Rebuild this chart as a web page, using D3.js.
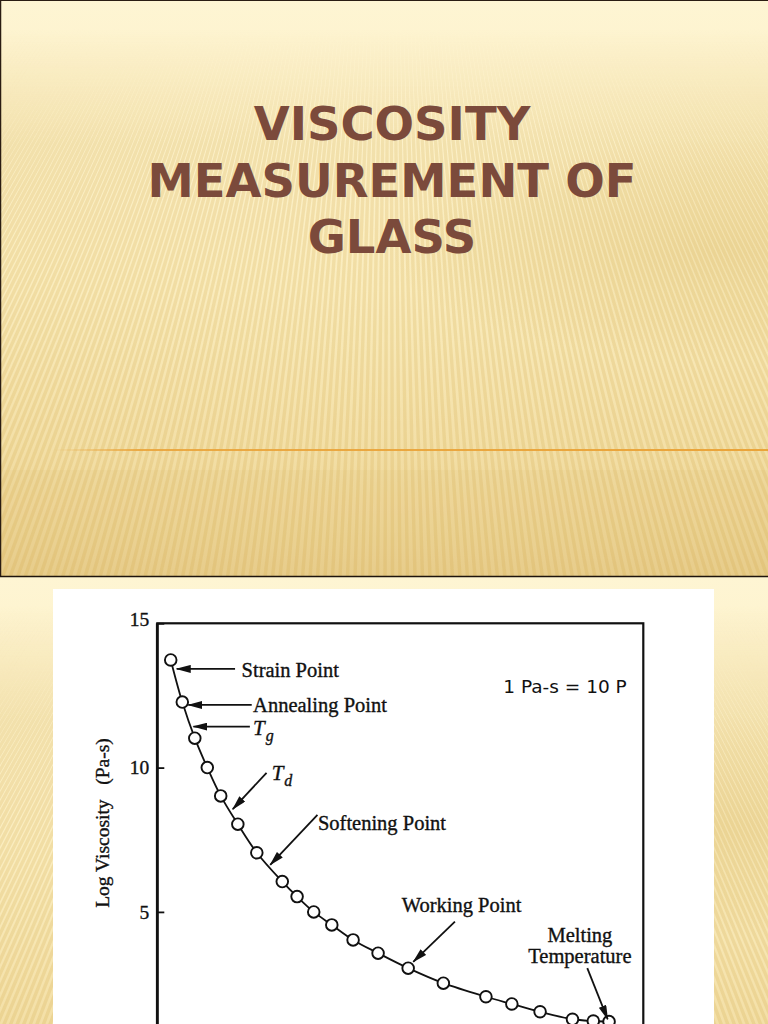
<!DOCTYPE html>
<meta charset="utf-8">
<style>
body { margin: 0; overflow: hidden; background: #fdf3cf; }
.serif { font-family: "Liberation Serif", "Times New Roman", serif; fill: #111; stroke: #111; stroke-width: 0.35px; }
.dot { fill: #fff; stroke: #111; stroke-width: 1.9px; }
.curve { fill: none; stroke: #111; stroke-width: 1.8px; }
.arrow { stroke: #111; stroke-width: 1.8px; }
</style>
<body>
<script src="https://cdn.jsdelivr.net/npm/d3@7"></script>
<script>

// title lines of the slide
var titleLines = ["VISCOSITY", "MEASUREMENT OF", "GLASS"];

// measured points (temperature guessed, x axis is cut off in the picture)
var temps = [479, 504, 531, 558, 587, 624, 665, 720, 752, 788, 827, 873, 927, 992, 1068, 1160, 1216, 1277, 1347, 1392, 1426];
var logVisc = [13.73, 12.27, 11.02, 10.0, 9.02, 8.04, 7.05, 6.05, 5.53, 5.0, 4.55, 4.03, 3.57, 3.05, 2.53, 2.06, 1.81, 1.54, 1.28, 1.22, 1.2];

// y ticks
var yTicks = [5, 10, 15];

// annotations, in data units: arrow tip, arrow tail, label anchor
var noteText = ["Strain Point", "Annealing Point", "T|g", "T|d", "Softening Point", "Working Point", "Melting|Temperature"];
var noteTip  = [[492, 13.42], [517, 12.17], [528, 11.42], [613, 8.56], [694, 6.63], [1003, 3.27], [1423, 1.28]];
var noteTail = [[618, 13.42], [654, 12.17], [650, 11.42], [686, 9.82], [796, 8.36], [1093, 4.66], [1379, 3.05]];
var noteAt   = [[632, 13.15], [657, 11.94], [657, 11.13], [697, 9.57], [797, 7.84], [978, 5.01], [1363, 3.97]];

var W = 768, H = 1024, slideH = 577;

var svg = d3.select("body").append("svg")
    .attr("width", W)
    .attr("height", H);

var defs = svg.append("defs");

// background gradient for a slide
var bg = defs.append("linearGradient").attr("id", "bg")
    .attr("x1", 0).attr("y1", 0).attr("x2", 0).attr("y2", 1);
bg.append("stop").attr("offset", "0%").attr("stop-color", "#fef5d3");
bg.append("stop").attr("offset", "50%").attr("stop-color", "#faecbd");
bg.append("stop").attr("offset", "78%").attr("stop-color", "#f3dfa6");
bg.append("stop").attr("offset", "100%").attr("stop-color", "#e9cf8e");

var fade = defs.append("linearGradient").attr("id", "fade")
    .attr("x1", 0).attr("y1", 0).attr("x2", 0).attr("y2", 1);
fade.append("stop").attr("offset", "0%").attr("stop-color", "#000");
fade.append("stop").attr("offset", "5%").attr("stop-color", "#000");
fade.append("stop").attr("offset", "25%").attr("stop-color", "#fff");
fade.append("stop").attr("offset", "100%").attr("stop-color", "#fff");

defs.append("mask").attr("id", "stripeMask")
  .append("rect").attr("width", W).attr("height", slideH).attr("fill", "url(#fade)");

var blob = defs.append("radialGradient").attr("id", "blob");
blob.append("stop").attr("offset", "0%").attr("stop-color", "#d9b865").attr("stop-opacity", 0.25);
blob.append("stop").attr("offset", "70%").attr("stop-color", "#d9b865").attr("stop-opacity", 0.1);
blob.append("stop").attr("offset", "100%").attr("stop-color", "#d9b865").attr("stop-opacity", 0);

var line = defs.append("linearGradient").attr("id", "rule")
    .attr("x1", 0).attr("y1", 0).attr("x2", 1).attr("y2", 0);
line.append("stop").attr("offset", "0%").attr("stop-color", "#eaa43a").attr("stop-opacity", 0);
line.append("stop").attr("offset", "12%").attr("stop-color", "#eaa43a").attr("stop-opacity", 0.9);
line.append("stop").attr("offset", "100%").attr("stop-color", "#eaa43a");

defs.append("marker").attr("id", "head")
    .attr("viewBox", "0 0 15 8")
    .attr("refX", 14).attr("refY", 4)
    .attr("markerWidth", 15).attr("markerHeight", 8)
    .attr("markerUnits", "userSpaceOnUse")
    .attr("orient", "auto")
  .append("path").attr("d", "M0,0L15,4L0,8Z").attr("fill", "#111");

function drawSlide(top) {
  var g = svg.append("g").attr("transform", "translate(0," + top + ")");
  g.append("rect").attr("width", W).attr("height", slideH).attr("fill", "url(#bg)");
  g.append("ellipse").attr("cx", 720).attr("cy", 250).attr("rx", 330).attr("ry", 110)
      .attr("fill", "url(#blob)");
  g.append("rect").attr("y", 470).attr("width", W).attr("height", slideH - 470)
      .attr("fill", "#dcbd70").attr("fill-opacity", 0.12);
  // fan of stripes from a point above the slide
  var vx = 390, vy = -480;
  var st = g.append("g").attr("mask", "url(#stripeMask)");
  d3.range(-1400, 2200, 7.5).forEach(function(bx) {
    st.append("line")
        .attr("x1", vx).attr("y1", vy)
        .attr("x2", bx).attr("y2", slideH)
        .attr("stroke", "#d1a848")
        .attr("stroke-opacity", 0.22)
        .attr("stroke-width", 3.4);
  });
  return g;
}

// first slide: title
var s1 = drawSlide(0);
s1.append("rect").attr("x", 54).attr("y", 449).attr("width", W - 54).attr("height", 2)
    .attr("fill", "url(#rule)");
s1.selectAll(".title").data(titleLines).enter().append("text")
    .attr("class", "title")
    .attr("x", 392)
    .attr("y", function(d, i) { return 140 + i * 56.5; })
    .attr("text-anchor", "middle")
    .attr("font-family", "DejaVu Sans")
    .attr("font-weight", "bold")
    .attr("font-size", 46.5)
    .attr("fill", "#7b4a3b")
    .text(function(d) { return d; });
s1.append("line").attr("x1", 0.5).attr("y1", 0).attr("x2", 0.5).attr("y2", slideH)
    .attr("stroke", "#2a1c12").attr("stroke-width", 1.5);
s1.append("line").attr("x1", 0).attr("y1", 0.5).attr("x2", W).attr("y2", 0.5)
    .attr("stroke", "#2a1c12").attr("stroke-width", 1);

// second slide: chart picture
var s2 = drawSlide(slideH);
svg.append("line").attr("x1", 0).attr("y1", slideH - 0.5).attr("x2", W).attr("y2", slideH - 0.5)
    .attr("stroke", "#1e140c").attr("stroke-width", 1.6);
svg.append("rect").attr("x", 53).attr("y", 589).attr("width", 661).attr("height", H)
    .attr("fill", "#fff");

// scales
var x = d3.scaleLinear().domain([450, 1500]).range([157.3, 643.3]);
var y = d3.scaleLinear().domain([0, 15]).range([1056.2, 623.3]);

var chart = svg.append("g");

chart.append("rect")
    .attr("x", x(450)).attr("y", y(15))
    .attr("width", x(1500) - x(450)).attr("height", y(0) - y(15))
    .attr("fill", "none").attr("stroke", "#111").attr("stroke-width", 2.2);
chart.append("line")
    .attr("x1", x(450)).attr("x2", x(450)).attr("y1", y(15)).attr("y2", y(0))
    .attr("stroke", "#111").attr("stroke-width", 2.8);

var yAxis = d3.axisLeft(y)
    .tickValues(yTicks)
    .tickSizeInner(-7)
    .tickSizeOuter(0)
    .tickPadding(8);

var ya = chart.append("g")
    .attr("transform", "translate(" + x(450) + ",0)")
    .call(yAxis);
ya.select(".domain").remove();
ya.selectAll(".tick line").attr("stroke", "#111").attr("stroke-width", 1.8);
ya.selectAll(".tick text")
    .attr("class", "serif")
    .attr("font-size", 19.5)
    .attr("fill", "#111");
ya.selectAll(".tick").filter(function(d) { return d === 15; }).select("text").attr("dy", "0.1em");

chart.append("text")
    .attr("class", "serif")
    .attr("transform", "translate(109,823) rotate(-90)")
    .attr("text-anchor", "middle")
    .attr("font-size", 19.5)
    .style("white-space", "pre")
    .text("Log Viscosity   (Pa-s)");

chart.append("text")
    .attr("x", 565).attr("y", 693)
    .attr("text-anchor", "middle")
    .attr("font-family", "DejaVu Sans")
    .attr("font-size", 18.5)
    .attr("fill", "#111")
    .text("1 Pa-s = 10 P");

var pts = temps.map(function(t, i) { return [t, logVisc[i]]; });

chart.append("path")
    .attr("class", "curve")
    .attr("d", d3.line()
        .x(function(d) { return x(d[0]); })
        .y(function(d) { return y(d[1]); })
        .curve(d3.curveCatmullRom)(pts));

chart.selectAll(".dot").data(pts).enter().append("circle")
    .attr("class", "dot")
    .attr("cx", function(d) { return x(d[0]); })
    .attr("cy", function(d) { return y(d[1]); })
    .attr("r", 5.8);

// annotations
noteText.forEach(function(t, i) {
  chart.append("line")
      .attr("class", "arrow")
      .attr("x1", x(noteTail[i][0])).attr("y1", y(noteTail[i][1]))
      .attr("x2", x(noteTip[i][0])).attr("y2", y(noteTip[i][1]))
      .attr("marker-end", "url(#head)");
  var parts = t.split("|");
  var lx = x(noteAt[i][0]), ly = y(noteAt[i][1]);
  if (parts[0] === "T") {
    var tx = chart.append("text").attr("class", "serif")
        .attr("x", lx).attr("y", ly).attr("font-size", 21).attr("font-style", "italic");
    tx.append("tspan").text("T");
    tx.append("tspan").attr("dy", 6).attr("dx", 1).attr("font-size", 16).text(parts[1]);
  } else if (parts.length === 2) {
    parts.forEach(function(p, j) {
      chart.append("text").attr("class", "serif")
          .attr("x", lx).attr("y", ly + j * 21.6)
          .attr("text-anchor", "middle")
          .attr("font-size", 20.5)
          .text(p);
    });
  } else {
    chart.append("text").attr("class", "serif")
        .attr("x", lx).attr("y", ly)
        .attr("font-size", 20.5)
        .text(t);
  }
});

</script>
</body>
